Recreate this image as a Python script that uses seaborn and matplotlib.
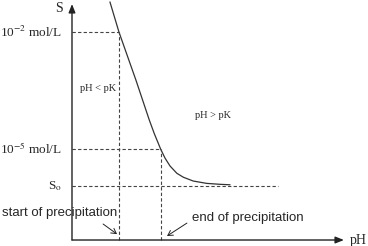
import numpy as np
import pandas as pd
import seaborn as sns
import matplotlib.pyplot as plt

# schematic solubility curve (arbitrary units)
ph_curve = [1.39, 1.72, 2.34, 2.83, 3.01, 3.25, 3.41, 3.59, 3.84, 4.08, 4.44, 4.93, 5.42, 5.79]
s_curve = [10.13, 8.85, 6.81, 5.11, 4.54, 3.86, 3.48, 3.15, 2.84, 2.67, 2.51, 2.41, 2.37, 2.35]

ph_start = 1.72
ph_end = 3.26
s_high = 8.85
s_mid = 3.87
s_o = 2.29
s_o_end = 7.55

level_labels = ["10$^{-2}$ mol/L", "10$^{-5}$ mol/L", "S$_\\mathrm{o}$"]
level_values = [s_high, s_mid, s_o]

sns.set_style("white")
plt.rcParams["font.family"] = ["Liberation Serif", "DejaVu Serif"]
plt.rcParams["mathtext.fontset"] = "stix"

fig = plt.figure(figsize=(3.68, 2.46), dpi=100)
ax = fig.add_axes([0, 0, 1, 1])
ax.set_xlim(-2.637, 10.842)
ax.set_ylim(-0.255, 10.213)
ax.axis("off")

df = pd.DataFrame({"pH": ph_curve, "S": s_curve})
sns.lineplot(data=df, x="pH", y="S", ax=ax, color="#333333", lw=0.9, sort=False)

dash = dict(color="#444444", lw=0.8, ls=(0, (3, 2)))
ax.plot([0, ph_start], [s_high, s_high], **dash)
ax.plot([ph_start, ph_start], [0, s_high], **dash)
ax.plot([0, ph_end], [s_mid, s_mid], **dash)
ax.plot([ph_end, ph_end], [0, s_mid], **dash)
ax.plot([0, s_o_end], [s_o, s_o], **dash)

# axes with arrow heads
arrow = dict(arrowstyle="-|>,head_length=0.5,head_width=0.2", color="#222222", lw=1.0,
             shrinkA=0, shrinkB=0)
ax.annotate("", xy=(0, 10.04), xytext=(0, 0), arrowprops=arrow)
ax.annotate("", xy=(9.96, 0), xytext=(0, 0), arrowprops=arrow)

ax.text(-0.33, 9.87, "S", fontsize=10, ha="right", va="center")
ax.text(10.18, 0, "pH", fontsize=10, ha="left", va="center")
for lab, val in zip(level_labels, level_values):
    ax.text(-0.37, val, lab, fontsize=9.5, ha="right", va="center")

ax.text(0.95, 6.43, "pH < pK", fontsize=7.5, ha="center", va="center")
ax.text(5.16, 5.28, "pH > pK", fontsize=7.5, ha="center", va="center")

sans = ["Liberation Sans", "DejaVu Sans"]
small_arrow = dict(arrowstyle="->,head_length=0.35,head_width=0.2", color="#222222", lw=0.7,
                   shrinkA=0, shrinkB=0)
ax.text(-2.56, 1.15, "start of precipitation", fontsize=9.5, family=sans, ha="left", va="center")
ax.annotate("", xy=(1.65, 0.25), xytext=(1.14, 0.68), arrowprops=small_arrow)
ax.text(4.40, 0.94, "end of precipitation", fontsize=9.5, family=sans, ha="left", va="center")
ax.annotate("", xy=(3.48, 0.17), xytext=(4.21, 0.72), arrowprops=small_arrow)

fig.savefig("out.png", dpi=100)
